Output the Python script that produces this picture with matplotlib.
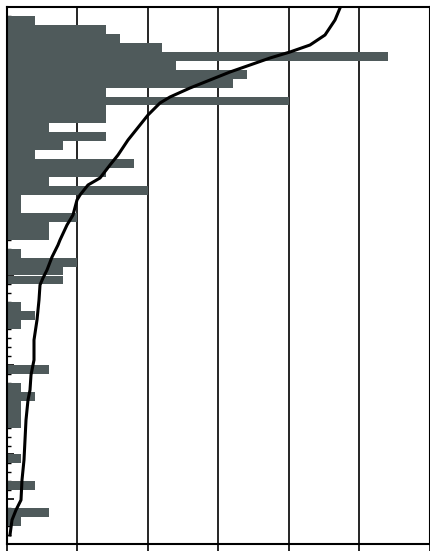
import matplotlib
matplotlib.use("Agg")
import matplotlib.pyplot as plt
import numpy as np

# bar lengths per row (top to bottom), units of 1/5 grid
bars = [0,2,7,8,11,27,12,17,16,7,20,7,7,3,7,4,2,9,7,3,10,1,1,5,3,3,0,1,5,4,
        4,0,0,1,2,1,0,0,0,0,3,0,1,2,1,1,1,0,0,0,1,0,0,2,0,0,3,1,0,0]
# curve points in pixels (x px, y px)
curve_px_x = [340,335,325,310,290,270,250,230,210,190,170,160,148,140,128,118,110,100,88,80,77,73,67,60,58,52,47,43,40,39,37,34,34,31,30,28,26,25,24,22,21,16,12,10]
curve_px_y = [8,20,35,45,52,58,65,72,80,88,97,103,115,125,140,155,165,178,185,195,200,215,225,240,245,257,270,278,285,300,320,340,360,375,390,400,420,440,460,480,500,510,520,535]

n = len(bars)
rows = np.arange(n) + 0.5
cx = (np.array(curve_px_x) - 7) / 14.1
cy = (np.array(curve_px_y) - 7) / 8.95

fig = plt.figure(figsize=(4.31, 5.51), dpi=100)
ax = fig.add_axes([7/431, 7/551, 423/431, 537/551])
ax.barh(rows, bars, height=1.0, color="#4f5a5b", left=0)
ax.plot(cx, cy, color="black", lw=2.2)
ax.set_xlim(0, 30)
ax.set_ylim(n, 0)
ax.set_xticks(np.arange(0, 31, 5))
ax.set_xticklabels([])
ax.set_yticks(np.arange(0, n+1, 5))
ax.set_yticks(np.arange(0, n+1, 1), minor=True)
ax.set_yticklabels([])
ax.tick_params(axis="y", which="major", direction="in", length=5, width=1.2)
ax.tick_params(axis="y", which="minor", direction="in", length=3, width=1)
ax.tick_params(axis="x", direction="out", length=5, width=1.2)
ax.xaxis.grid(True, color="black", lw=1.2)
ax.set_axisbelow(True)
for s in ax.spines.values():
    s.set_linewidth(1.5)
fig.savefig("out.png", dpi=100)
